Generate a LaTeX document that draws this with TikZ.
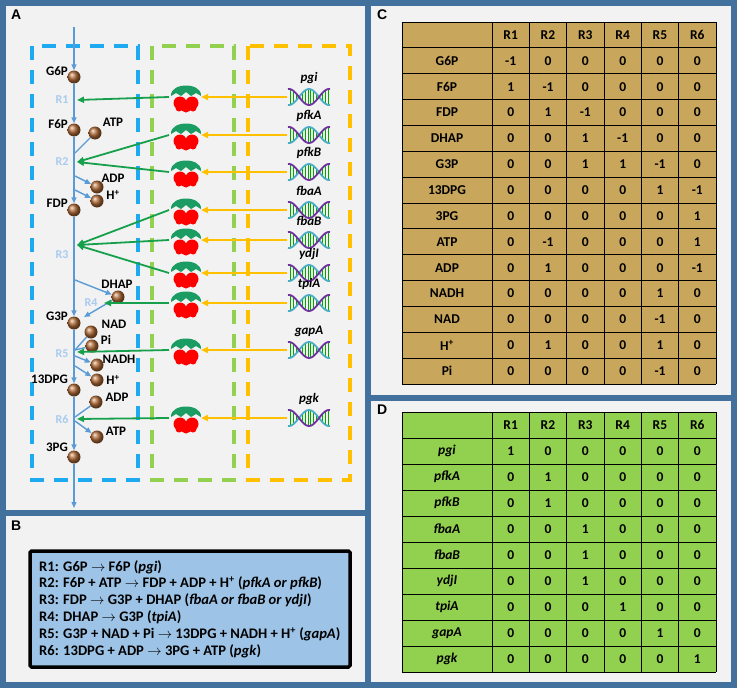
\documentclass[tikz,border=0pt]{standalone}
\usepackage{fontspec}
\setmainfont{Carlito}
\newfontfamily\arialf{Liberation Sans}
\usetikzlibrary{arrows.meta}
\definecolor{frame}{HTML}{41719C}
\definecolor{bgg}{HTML}{F2F2F2}
\definecolor{pblue}{HTML}{5B9BD5}
\definecolor{dblue}{HTML}{1EAAF1}
\definecolor{dgreen}{HTML}{92D050}
\definecolor{dyell}{HTML}{FFC000}
\definecolor{garrow}{HTML}{17A04B}
\definecolor{capg}{HTML}{1B9C63}
\definecolor{rlab}{HTML}{A9CBEF}
\definecolor{tan}{HTML}{C8A65C}
\definecolor{boxb}{HTML}{9DC3E6}
\definecolor{dnap}{HTML}{7030A0}
\definecolor{dnab}{HTML}{4BACC6}
\definecolor{brownb}{HTML}{B06A35}
\tikzset{
 met/.style={circle,minimum size=13pt,inner sep=0pt,ball color=brownb,draw=none},
 mlab/.style={font=\bfseries\fontsize{13}{14}\selectfont,inner sep=0pt},
 rl/.style={font=\bfseries\fontsize{12}{13}\selectfont,text=rlab,inner sep=0pt},
 path/.style={pblue,line width=1.4pt},
 parr/.style={path,-{Triangle[length=6pt,width=5pt]}},
 garr/.style={garrow,line width=1.8pt,-{Triangle[length=7pt,width=6pt]}},
 yarr/.style={dyell,line width=1.8pt,-{Triangle[length=7pt,width=6pt]}},
 dbox/.style={line width=4pt,dash pattern=on 14pt off 10pt},
 glab/.style={font=\bfseries\itshape\fontsize{13}{14}\selectfont,inner sep=0pt},
 plab/.style={font=\arialf\bfseries\fontsize{14}{15}\selectfont,inner sep=0pt,anchor=north west},
 cell/.style={font=\bfseries\fontsize{13.5}{14}\selectfont,inner sep=0pt},
 enz/.pic={
  \fill[capg] (-15,-1) .. controls (-16,-15) and (16,-15) .. (15,-1) -- (10,-4) -- (5,-1) -- (0,-5) -- (-5,-1) -- (-10,-4) -- cycle;
  \fill[red] (-6,6) circle (6.5) (6,6) circle (6.5) (0,10) circle (5.5) (-7,11) circle (3.5) (7,11) circle (3.5);
 },
 dna/.pic={
  \foreach \xx in {-19,-16,-13,-7,-4,-1,1,4,7,13,16,19}{\draw[green!65!black,line width=0.7pt] (\xx,{-8*cos(9*\xx)}) -- (\xx,{8*cos(9*\xx)});}
  \draw[dnab,line width=1.8pt,domain=-21:21,samples=40] plot (\x,{-8*cos(9*\x)});
  \draw[dnap,line width=1.8pt,domain=-21:21,samples=40] plot (\x,{8*cos(9*\x)});
 }
}
\begin{document}
\begin{tikzpicture}[x=1pt,y=-1pt]
\useasboundingbox (0,0) rectangle (737,688);
\fill[frame] (0,0) rectangle (737,688);
\fill[bgg] (6,6) rectangle (365,510);
\fill[bgg] (6,516) rectangle (365,682);
\fill[bgg] (371,6) rectangle (731,395);
\fill[bgg] (371,401) rectangle (731,682);
\node[plab] (la) at (11,10) {A};
\node[plab] (lb) at (11,521) {B};
\node[plab] (lc) at (377,10) {C};
\node[plab] (ld) at (377,405) {D};
% dashed boxes
\draw[dbox,dblue] (32,46) rectangle (138,480);
\draw[dbox,dgreen] (152,46) rectangle (234,480);
\draw[dbox,dyell] (248,46) rectangle (350,480);
% metabolites
\node[met] (g6p) at (74,77) {}; \node[mlab,anchor=east] at (68,71) {G6P};
\node[met] (f6p) at (74,130) {}; \node[mlab,anchor=east] at (68,124) {F6P};
\node[met] (atp1) at (95,133) {}; \node[mlab] at (113,122) {ATP};
\node[met] (adp1) at (97,187) {}; \node[mlab] at (113,178) {ADP};
\node[met] (h1) at (97,201) {}; \node[mlab] at (113,195) {H\textsuperscript{+}};
\node[met] (fdp) at (74,210) {}; \node[mlab,anchor=east] at (68,203) {FDP};
\node[met] (dhap) at (118,297) {}; \node[mlab] at (117,284) {DHAP};
\node[met] (g3p) at (74,323) {}; \node[mlab,anchor=east] at (68,316) {G3P};
\node[met] (nad) at (91,332) {}; \node[mlab] at (114,324) {NAD};
\node[met] (pi) at (92,346) {}; \node[mlab] at (106,340) {Pi};
\node[met] (nadh) at (97,365) {}; \node[mlab] at (119,359) {NADH};
\node[met] (h2) at (97,380) {}; \node[mlab] at (113,380) {H\textsuperscript{+}};
\node[met] (dpg) at (74,390) {}; \node[mlab,anchor=east] at (68,379) {13DPG};
\node[met] (adp2) at (96,402) {}; \node[mlab] at (117,397) {ADP};
\node[met] (atp2) at (97,437) {}; \node[mlab] at (116,431) {ATP};
\node[met] (pg) at (74,457) {}; \node[mlab,anchor=east] at (68,447) {3PG};
% reaction labels
\node[rl] (r1) at (62,100) {R1};
\node[rl] (r2) at (62,162) {R2};
\node[rl] (r3) at (62,255) {R3};
\node[rl] (r4) at (91,303) {R4};
\node[rl] (r5) at (62,354) {R5};
\node[rl] (r6) at (62,419) {R6};
% main pathway
\coordinate (top) at (74,27); \coordinate (bot) at (74,508);
\draw[parr] (top) -- (g6p.north);
\draw[parr] (g6p) -- (f6p.north);
\draw[parr] (f6p) -- (fdp.north);
\draw[parr] (fdp) -- (g3p.north);
\draw[parr] (g3p) -- (dpg.north);
\draw[parr] (dpg) -- (pg.north);
\draw[parr] (pg) -- (bot);
% branches
\coordinate (b2a) at (75,153); \coordinate (b2b) at (75,176); \coordinate (b2c) at (75,190);
\draw[path] (atp1) -- (b2a);
\draw[parr] (b2b) -- (adp1);
\draw[parr] (b2c) -- (h1);
\coordinate (b3) at (75,280); \coordinate (g3pin) at (84,317);
\draw[parr] (b3) -- (dhap);
\draw[parr] (dhap) -- (g3pin);
\coordinate (b5a) at (75,350); \coordinate (b5b) at (75,356); \coordinate (b5c) at (75,366);
\draw[path] (nad) -- (b5a); \draw[path] (pi) -- (b5a);
\draw[parr] (b5b) -- (nadh);
\draw[parr] (b5c) -- (h2);
\coordinate (b6a) at (75,417); \coordinate (b6b) at (75,421);
\draw[path] (adp2) -- (b6a);
\draw[parr] (b6b) -- (atp2);
% reaction targets
\coordinate (t1) at (77,100); \coordinate (t2) at (77,162); \coordinate (t3) at (77,245);
\coordinate (t4) at (104,303); \coordinate (t5) at (77,352); \coordinate (t6) at (77,419);
% enzymes and genes
\foreach \g/\y/\t in {pgi/97/t1,pfkA/135/t2,pfkB/172/t2,fbaA/210/t3,fbaB/240/t3,ydjI/273/t3,tpiA/303/t4,gapA/350/t5,pgk/418/t6}{
  \pic at (186,\y) {enz};
  \pic at (309,\y) {dna};
  \coordinate (e\g) at (169,\y);
  \coordinate (ei\g) at (201,\y);
  \coordinate (d\g) at (287,\y);
  \node[glab] (l\g) at (309,\y-19) {\g};
  \draw[yarr] (d\g) -- (ei\g);
  \draw[garr] (e\g) -- (\t);
}
% panel B
\node[draw=black,line width=3.5pt,fill=boxb,rounded corners=1.5pt,minimum width=320pt,minimum height=116pt,inner sep=0pt] (bbox) at (190,609) {};
\node[anchor=west,align=left,font=\bfseries\fontsize{14.6}{16.8}\selectfont,inner sep=0pt] (btext) at (39,609) {%
R1: G6P $\rightarrow$ F6P (\textit{pgi})\\
R2: F6P + ATP $\rightarrow$ FDP + ADP + H\textsuperscript{+} (\textit{pfkA or pfkB})\\
R3: FDP $\rightarrow$ G3P + DHAP (\textit{fbaA or fbaB or ydjI})\\
R4: DHAP $\rightarrow$ G3P (\textit{tpiA})\\
R5: G3P + NAD + Pi $\rightarrow$ 13DPG + NADH + H\textsuperscript{+} (\textit{gapA})\\
R6: 13DPG + ADP $\rightarrow$ 3PG + ATP (\textit{pgk})};
% table C
\def\rh{25.86}
\fill[tan] (402,22) rectangle (716,384);
\foreach \i in {0,...,14}{\draw[black,line width=0.8pt] (402,22+\i*\rh) -- (716,22+\i*\rh);}
\draw[black,line width=0.8pt] (402,22) -- (402,384);
\foreach \j in {0,...,6}{\draw[black,line width=0.8pt] (492+\j*37.33,22) -- (492+\j*37.33,384);}
\foreach \j in {1,...,6}{\node[cell] (ch\j) at (473.3+\j*37.33,22+0.5*\rh) {R\j};}
\foreach \lab/\a/\b/\c/\d/\e/\f [count=\r] in {G6P/-1/0/0/0/0/0,F6P/1/-1/0/0/0/0,FDP/0/1/-1/0/0/0,DHAP/0/0/1/-1/0/0,G3P/0/0/1/1/-1/0,13DPG/0/0/0/0/1/-1,3PG/0/0/0/0/0/1,ATP/0/-1/0/0/0/1,ADP/0/1/0/0/0/-1,NADH/0/0/0/0/1/0,NAD/0/0/0/0/-1/0,H\textsuperscript{+}/0/1/0/0/1/0,Pi/0/0/0/0/-1/0}{
  \pgfmathsetmacro\yy{22+(\r+0.5)*\rh}
  \node[cell] (cl\r) at (447,\yy) {\lab};
  \node[cell] (c\r-1) at (510.7,\yy) {\a};
  \node[cell] (c\r-2) at (548,\yy) {\b};
  \node[cell] (c\r-3) at (585.3,\yy) {\c};
  \node[cell] (c\r-4) at (622.7,\yy) {\d};
  \node[cell] (c\r-5) at (660,\yy) {\e};
  \node[cell] (c\r-6) at (697.3,\yy) {\f};
}
% table D
\def\rd{26}
\fill[dgreen] (402,412) rectangle (716,672);
\foreach \i in {0,...,10}{\draw[black,line width=0.8pt] (402,412+\i*\rd) -- (716,412+\i*\rd);}
\draw[black,line width=0.8pt] (402,412) -- (402,672);
\foreach \j in {0,...,6}{\draw[black,line width=0.8pt] (492+\j*37.33,412) -- (492+\j*37.33,672);}
\foreach \j in {1,...,6}{\node[cell] (dh\j) at (473.3+\j*37.33,412+0.5*\rd) {R\j};}
\foreach \lab/\a/\b/\c/\d/\e/\f [count=\r] in {pgi/1/0/0/0/0/0,pfkA/0/1/0/0/0/0,pfkB/0/1/0/0/0/0,fbaA/0/0/1/0/0/0,fbaB/0/0/1/0/0/0,ydjI/0/0/1/0/0/0,tpiA/0/0/0/1/0/0,gapA/0/0/0/0/1/0,pgk/0/0/0/0/0/1}{
  \pgfmathsetmacro\yy{412+(\r+0.5)*\rd}
  \node[cell,font=\bfseries\itshape\fontsize{13.5}{14}\selectfont] (dl\r) at (447,\yy) {\lab};
  \node[cell] (d\r-1) at (510.7,\yy) {\a};
  \node[cell] (d\r-2) at (548,\yy) {\b};
  \node[cell] (d\r-3) at (585.3,\yy) {\c};
  \node[cell] (d\r-4) at (622.7,\yy) {\d};
  \node[cell] (d\r-5) at (660,\yy) {\e};
  \node[cell] (d\r-6) at (697.3,\yy) {\f};
}
\end{tikzpicture}
\end{document}
